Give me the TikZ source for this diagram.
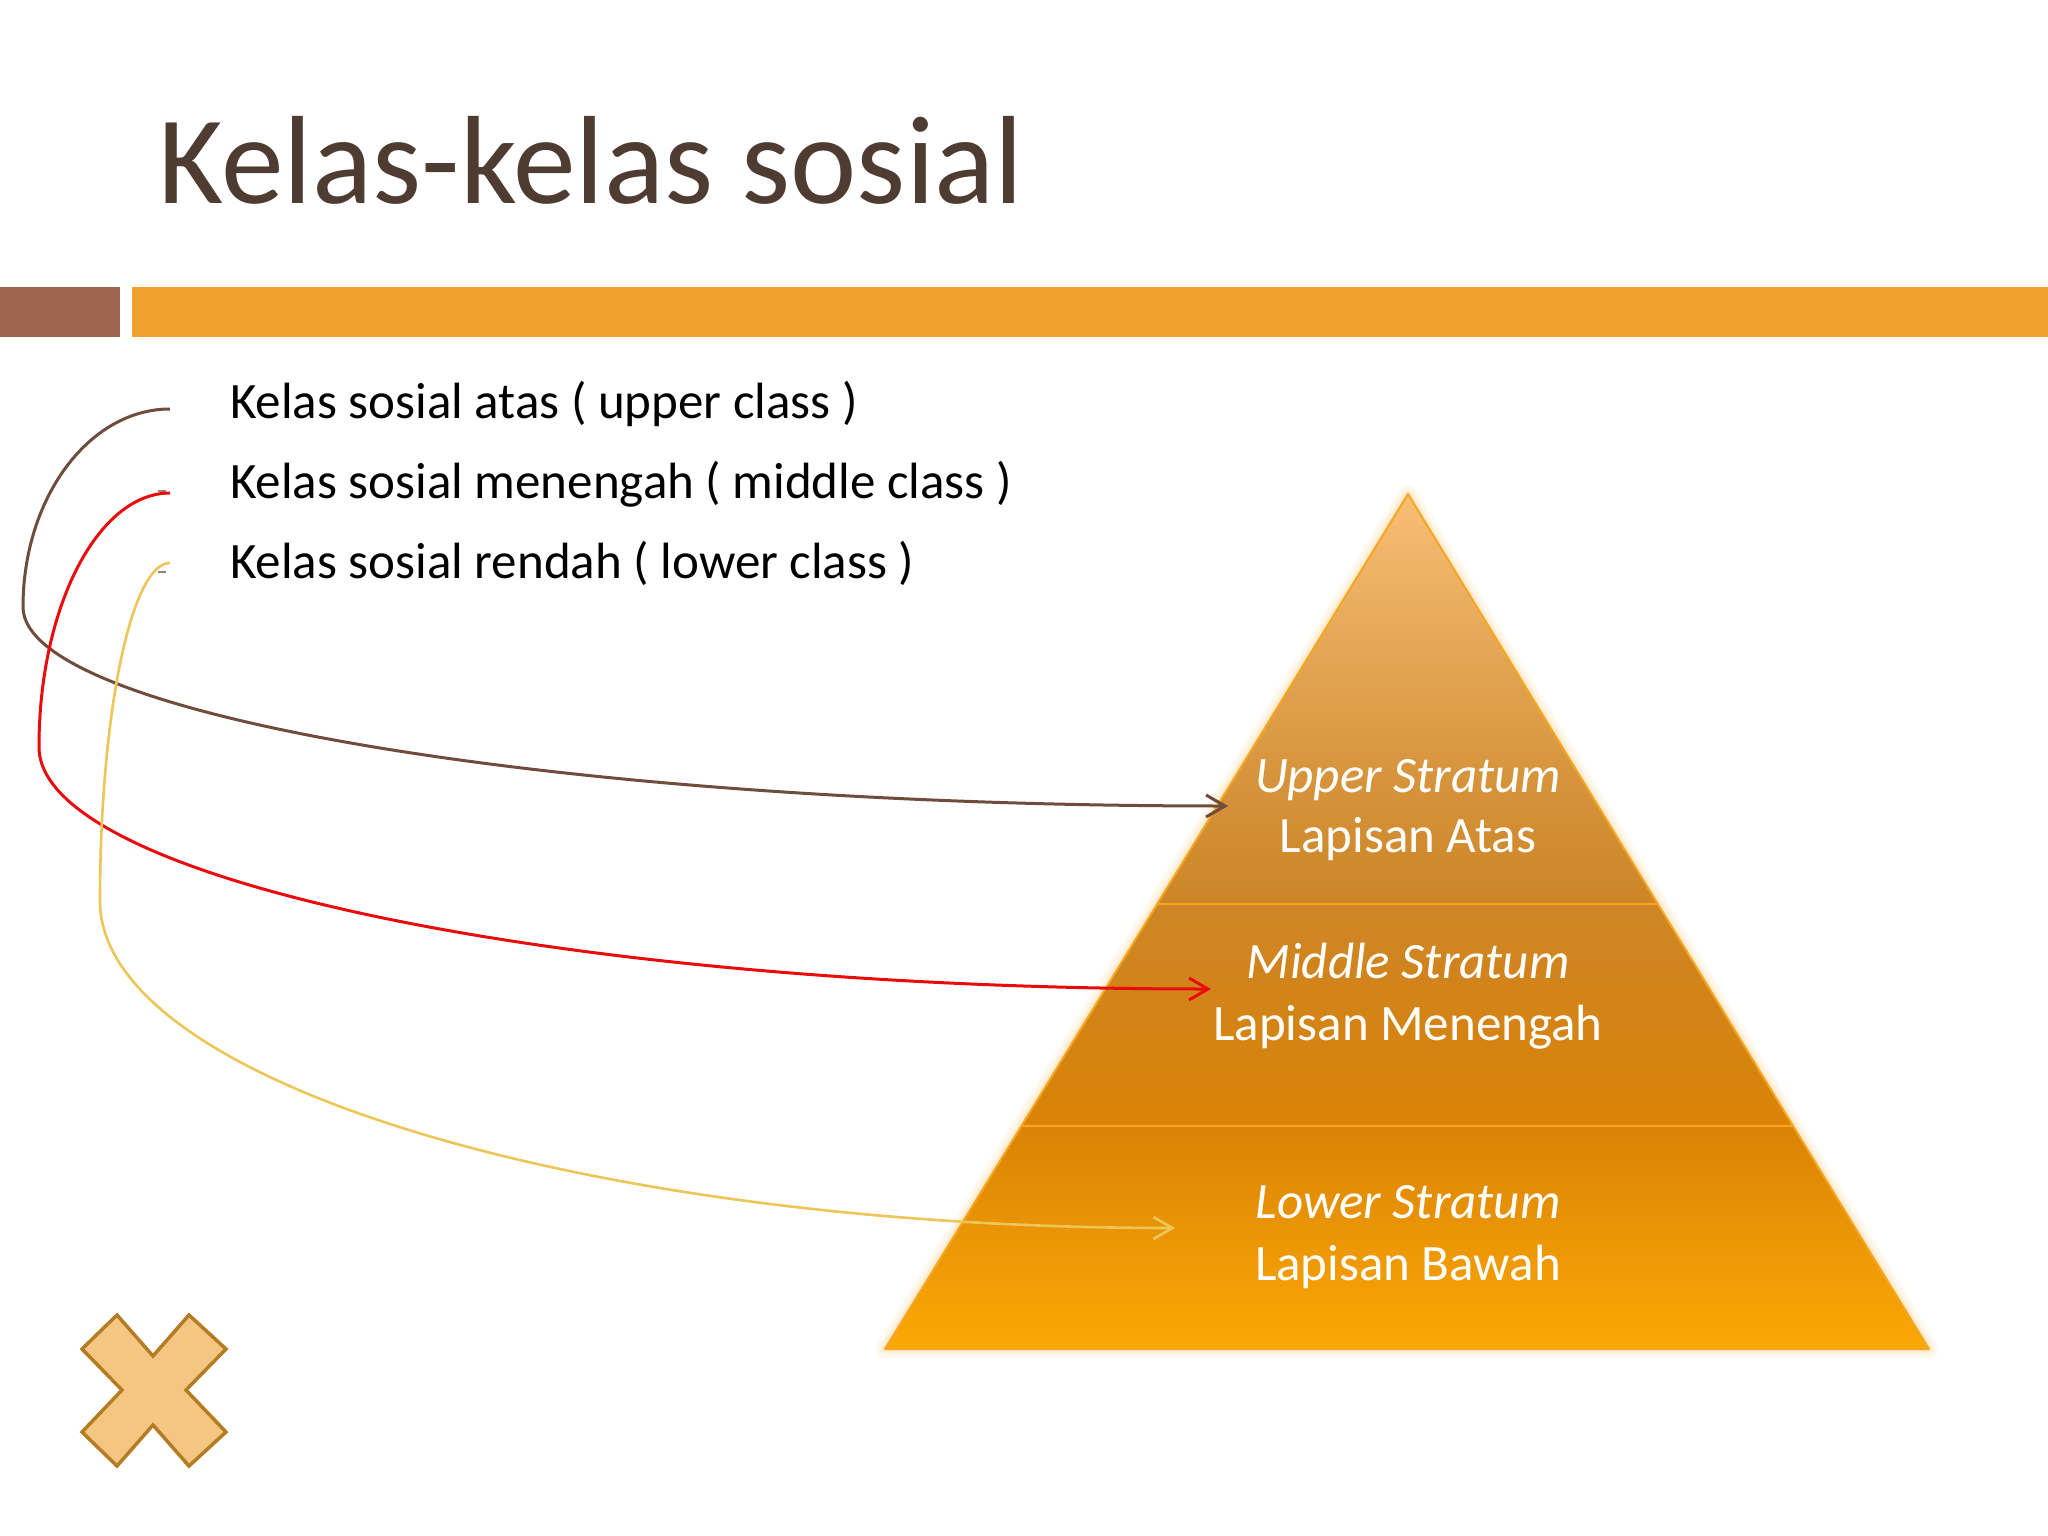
\documentclass[tikz,border=0pt]{standalone}
\usepackage{fontspec}
\setmainfont{Carlito}
\usetikzlibrary{arrows.meta,calc}
\definecolor{titlebrown}{RGB}{78,59,49}
\definecolor{barbrown}{RGB}{160,101,79}
\definecolor{barorange}{RGB}{240,162,46}
\definecolor{linkbrown}{RGB}{112,76,60}
\definecolor{linkred}{RGB}{232,12,12}
\definecolor{linkyellow}{RGB}{236,198,88}
\definecolor{pyredge}{RGB}{246,166,30}
\definecolor{pyrtop}{RGB}{247,190,118}
\definecolor{pyrupper}{RGB}{214,148,60}
\definecolor{pyrmid}{RGB}{205,133,38}
\definecolor{pyrlow}{RGB}{218,131,6}
\definecolor{pyrbase}{RGB}{252,168,5}
\definecolor{crossfill}{RGB}{245,198,130}
\definecolor{crossedge}{RGB}{181,125,35}

\pgfdeclareverticalshading{pyramidshade}{100bp}{color(0bp)=(pyrbase); color(25bp)=(pyrbase); color(38bp)=(pyrlow); color(51bp)=(pyrmid); color(58.5bp)=(pyrupper); color(75bp)=(pyrtop); color(100bp)=(pyrtop)}

\begin{document}
\begin{tikzpicture}[x=1pt, y=-1pt, every node/.style={inner sep=0pt},
	bullettext/.style={anchor=base west, text=black, font=\fontsize{51}{61}\selectfont},
	stratumeng/.style={anchor=base, text=white, font=\fontsize{51}{61}\selectfont\itshape},
	stratumind/.style={anchor=base, text=white, font=\fontsize{51}{61}\selectfont},
	link/.style={-{Straight Barb[length=19pt, width=22pt]}, line width=3pt}]
	
	% Fix the page to the slide size
	\useasboundingbox (0,0) rectangle (2048,1536);
	\fill[white] (0,0) rectangle (2048,1536);
	
	% --- Title ---
	\node[anchor=base west, text=titlebrown, font=\fontsize{125.5}{150}\selectfont] (title) at (158,203) {Kelas-kelas sosial};
	
	% --- Header bar ---
	\fill[barbrown] (0,287) rectangle (120,337);
	\fill[barorange] (132,287) rectangle (2048,337);
	
	% --- Class list ---
	\node[bullettext] (upperclass) at (230,418) {Kelas sosial atas ( upper class )};
	\node[bullettext] (middleclass) at (230,498) {Kelas sosial menengah ( middle class )};
	\node[bullettext] (lowerclass) at (230,578) {Kelas sosial rendah ( lower class )};
	\draw[linkbrown!70, line width=1.5pt] (158,491) -- (166,491);
	\draw[linkbrown!70, line width=1.5pt] (158,572) -- (166,572);
	
	% --- Pyramid ---
	\coordinate (apex) at (1408,494);
	\coordinate (baseL) at (885,1349);
	\coordinate (baseR) at (1929,1349);
	% soft glow round the edge
	\foreach \w/\c in {18/7, 12/12, 7/22}
	\draw[pyredge!\c, line width=\w pt, line join=round] (apex) -- (baseL) -- (baseR) -- cycle;
	\shade[shading=pyramidshade] (apex) -- (baseL) -- (baseR) -- cycle;
	\draw[pyredge, line width=2pt, line join=round] (apex) -- (baseL) -- (baseR) -- cycle;
	\draw[pyredge, line width=2.5pt] ($(apex)!0.4795!(baseL)$) -- ($(apex)!0.4795!(baseR)$);
	\draw[pyredge, line width=2.5pt] ($(apex)!0.7392!(baseL)$) -- ($(apex)!0.7392!(baseR)$);
	
	\node[stratumeng] (uppereng) at (1408,792) {Upper Stratum};
	\node[stratumind] (upperind) at (1408,852) {Lapisan Atas};
	\node[stratumeng] (middleeng) at (1408,978) {Middle Stratum};
	\node[stratumind] (middleind) at (1408,1040) {Lapisan Menengah};
	\node[stratumeng] (lowereng) at (1408,1218) {Lower Stratum};
	\node[stratumind] (lowerind) at (1408,1280) {Lapisan Bawah};
	
	% --- Connectors from the list to the strata ---
	\coordinate (upperstart) at (170,409);
	\coordinate (upperend) at (1228,806);
	\coordinate (middlestart) at (170,493);
	\coordinate (middleend) at (1211,989);
	\coordinate (lowerstart) at (170,563);
	\coordinate (lowerend) at (1175,1228);
	
	\draw[link, linkbrown] (upperstart) .. controls (89,409) and (23,498) .. (23,607)
	.. controls (23,716) and (565,806) .. (upperend);
	\draw[link, linkred] (middlestart) .. controls (98,493) and (39,607) .. (39,747)
	.. controls (39,880) and (566,989) .. (middleend);
	\draw[link, linkyellow, line width=2.6pt] (lowerstart) .. controls (131,563) and (100,715) .. (100,901)
	.. controls (100,1081) and (584,1228) .. (lowerend);
	
	% --- Cross mark ---
	\filldraw[fill=crossfill, draw=crossedge, line width=3.5pt] (82,1349) -- (117,1315) -- (153,1356) -- (189,1315) -- (226,1349)
	-- (186,1390) -- (226,1432) -- (189,1466) -- (153,1425) -- (117,1466) -- (82,1432) -- (122,1390) -- cycle;
	
\end{tikzpicture}
\end{document}
